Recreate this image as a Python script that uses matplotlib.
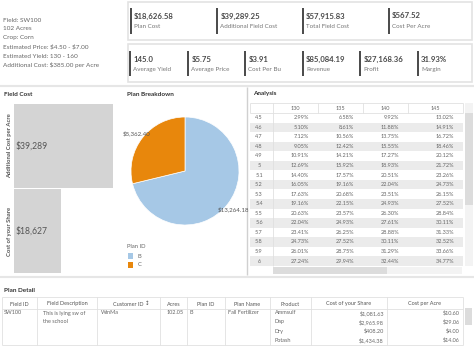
import matplotlib.pyplot as plt
from matplotlib.patches import Rectangle

plt.rcParams['font.family'] = ['Lato', 'DejaVu Sans']
plt.rcParams['text.parse_math'] = False

W, H = 474, 348

field_info = ["Field: SW100", "102 Acres", "Crop: Corn",
              "Estimated Price: $4.50 - $7.00", "Estimated Yield: 130 - 160",
              "Additional Cost: $385.00 per Acre"]

cost_values = ["$18,626.58", "$39,289.25", "$57,915.83", "$567.52"]
cost_labels = ["Plan Cost", "Additional Field Cost", "Total Field Cost", "Cost Per Acre"]
return_values = ["145.0", "$5.75", "$3.91", "$85,084.19", "$27,168.36", "31.93%"]
return_labels = ["Average Yield", "Average Price", "Cost Per Bu", "Revenue", "Profit", "Margin"]

field_cost_names = ["Additional Cost per Acre", "Cost of your Share"]
field_cost_amounts = [39289.25, 18626.58]

plan_ids = ["B", "C"]
plan_amounts = [13264.18, 5362.40]
plan_colors = ["#a6c8e6", "#e8870c"]

yield_levels = ["130", "135", "140", "145"]
price_levels = ["4.5", "4.6", "4.7", "4.8", "4.9", "5", "5.1", "5.2",
                "5.3", "5.4", "5.5", "5.6", "5.7", "5.8", "5.9", "6"]
margin_pct = [
    [2.99, 6.58, 9.92, 13.02],
    [5.10, 8.61, 11.88, 14.91],
    [7.12, 10.56, 13.75, 16.72],
    [9.05, 12.42, 15.55, 18.46],
    [10.91, 14.21, 17.27, 20.12],
    [12.69, 15.92, 18.93, 21.72],
    [14.40, 17.57, 20.51, 23.26],
    [16.05, 19.16, 22.04, 24.73],
    [17.63, 20.68, 23.51, 26.15],
    [19.16, 22.15, 24.93, 27.52],
    [20.63, 23.57, 26.30, 28.84],
    [22.04, 24.93, 27.61, 30.11],
    [23.41, 26.25, 28.88, 31.33],
    [24.73, 27.52, 30.11, 32.52],
    [26.01, 28.75, 31.29, 33.66],
    [27.24, 29.94, 32.44, 34.77],
]

detail_headers = ["Field ID", "Field Description", "Customer ID", "Acres", "Plan ID",
                  "Plan Name", "Product", "Cost of your Share", "Cost per Acre"]
detail_field = ["SW100", "This is lying sw of\nthe school", "WinMa", "102.05", "B", "Fall Fertilizer"]
products = ["Ammsulf", "Dap", "Dry", "Potash"]
share_costs = ["$1,081.63", "$2,965.98", "$408.20", "$1,434.38"]
acre_costs = ["$10.60", "$29.06", "$4.00", "$14.06"]

TXT = "#666666"
DARK = "#4a4a4a"
LINE = "#e0e0e0"

fig = plt.figure(figsize=(W / 100, H / 100), dpi=100)
fig.patch.set_facecolor("white")

# pixel-space canvas for text, boxes and tables
bg = fig.add_axes([0, 0, 1, 1])
bg.set_xlim(0, W)
bg.set_ylim(H, 0)
bg.axis("off")


def rect(x0, y0, x1, y1, **kw):
    bg.add_patch(Rectangle((x0, y0), x1 - x0, y1 - y0, **kw))


def hline(y, x0, x1, color=LINE, lw=0.6):
    bg.plot([x0, x1], [y, y], color=color, lw=lw, solid_capstyle="butt")


def vline(x, y0, y1, color=LINE, lw=0.6):
    bg.plot([x, x], [y0, y1], color=color, lw=lw, solid_capstyle="butt")


# field summary
for i, line in enumerate(field_info):
    bg.text(3, 20 + i * 9, line, fontsize=4.6, color=TXT, va="center")

# KPI strips
rect(128, 2, 472, 40, fill=False, ec="#e3e3e3", lw=1.2)
rect(128, 44, 472, 82, fill=False, ec="#e3e3e3", lw=1.2)
for x, v, lab in zip([130, 216.5, 302, 388], cost_values, cost_labels):
    rect(x, 8, x + 1.8, 34, color="#4d4d4d", lw=0)
    bg.text(x + 4, 16, v, fontsize=5.6, fontweight="bold", color=DARK, va="center")
    bg.text(x + 4, 26, lab, fontsize=4.5, color="#777777", va="center")
for x, v, lab in zip([129.5, 187.5, 244.5, 302, 359.5, 417], return_values, return_labels):
    rect(x, 51, x + 1.8, 76, color="#4d4d4d", lw=0)
    bg.text(x + 4, 59.5, v, fontsize=5.6, fontweight="bold", color=DARK, va="center")
    bg.text(x + 4, 69.5, lab, fontsize=4.5, color="#777777", va="center")

hline(86, 0, W, color="#e6e6e6", lw=1.5)
hline(276.5, 0, W, color="#e6e6e6", lw=1.5)
vline(247, 87, 275, color="#d0d0d0", lw=1.0)

# section titles
bg.text(4, 94, "Field Cost", fontsize=4.6, fontweight="bold", color="#333333", va="center")
bg.text(127, 94, "Plan Breakdown", fontsize=4.6, fontweight="bold", color="#333333", va="center")
bg.text(253, 94, "Analysis", fontsize=4.6, fontweight="bold", color="#333333", va="center")
bg.text(4, 291, "Plan Detail", fontsize=4.6, fontweight="bold", color="#333333", va="center")

# Field Cost bars
ax_fc = fig.add_axes([14 / W, 1 - 274 / H, 99 / W, 171 / H])
rows = range(len(field_cost_amounts))
ax_fc.barh(rows, field_cost_amounts, height=0.985, color="#d4d4d4")
ax_fc.set_xlim(0, max(field_cost_amounts))
ax_fc.set_ylim(len(field_cost_amounts) - 0.5, -0.5)
ax_fc.axis("off")
for i, (name, v) in enumerate(zip(field_cost_names, field_cost_amounts)):
    ax_fc.annotate(f"${v:,.0f}", (0, i), xytext=(2, 0), textcoords="offset pixels",
                   fontsize=6.2, color="#555555", va="center", ha="left")
    ax_fc.annotate(name, (0, i), xytext=(-1.5, 0), textcoords="offset pixels",
                   fontsize=4.2, fontweight="bold", color="#555555", rotation=90,
                   va="center", ha="right", annotation_clip=False)

# Plan Breakdown pie
cx, cy, r = 185, 171, 54
ax_pie = fig.add_axes([(cx - r) / W, 1 - (cy + r) / H, 2 * r / W, 2 * r / H])
wedges, texts = ax_pie.pie(plan_amounts, colors=plan_colors, startangle=90, counterclock=False,
                           labels=[f"${v:,.2f}" for v in plan_amounts], labeldistance=1.14,
                           wedgeprops=dict(edgecolor="white", linewidth=0.5),
                           textprops=dict(fontsize=4.4, color="#555555"))
for t in texts:
    t.set_horizontalalignment("center")
ax_pie.set_xlim(-1, 1)
ax_pie.set_ylim(-1, 1)

bg.text(127, 246, "Plan ID", fontsize=4.2, color=TXT, va="center")
for i, (pid, c) in enumerate(zip(plan_ids, plan_colors)):
    y = 256 + i * 9
    rect(128, y - 2.7, 133.5, y + 2.7, color=c, lw=0)
    bg.text(138, y, pid, fontsize=4.2, color=TXT, va="center")

# Analysis table
col_edges = [250, 273, 318, 363, 408, 463]
row_top, row_h = 113, 9.55
for i, (p, vals) in enumerate(zip(price_levels, margin_pct)):
    y0 = row_top + i * row_h
    if i % 2 == 1:
        rect(250, y0, 463, y0 + row_h, color="#ebebeb", lw=0)
    yc = y0 + row_h / 2
    bg.text(259, yc, p, fontsize=4.0, color=TXT, va="center", ha="center")
    for j, v in enumerate(vals):
        bg.text(col_edges[j + 2] - 9, yc, f"{v:.2f}%", fontsize=4.0, color=TXT,
                va="center", ha="right")
for j, h in enumerate(yield_levels):
    bg.text((col_edges[j + 1] + col_edges[j + 2]) / 2, 108, h, fontsize=4.0,
            color=TXT, va="center", ha="center")
table_bottom = row_top + len(price_levels) * row_h
hline(103, 250, 463)
hline(row_top, 250, 463)
for x in col_edges:
    vline(x, 103, row_top)
vline(273, row_top, table_bottom)
# scrollbars
rect(465, 103, 473, 266, color="#f3f3f3", lw=0)
rect(465, 113, 473, 205, color="#dcdcdc", lw=0)
rect(273, 267, 462, 273.5, color="#f3f3f3", lw=0)
rect(273, 267, 387, 273.5, color="#dcdcdc", lw=0)

# Plan Detail table
det_edges = [2, 37, 97, 160, 187, 225, 270, 311, 387, 463]
for j, h in enumerate(detail_headers):
    bg.text((det_edges[j] + det_edges[j + 1]) / 2, 304, h, fontsize=4.0,
            color="#555555", va="center", ha="center")
bg.text(147, 303.5, "\u2195", fontsize=4.0, color="#555555", va="center", ha="center",
        family="DejaVu Sans")
for x in det_edges:
    vline(x, 297, 345)
hline(297, 2, 463)
hline(309, 2, 463)
hline(345, 2, 463)

bg.text(4, 313, detail_field[0], fontsize=4.0, color=TXT, va="center")
bg.text(43, 317.5, detail_field[1], fontsize=4.0, color=TXT, va="center", linespacing=1.6)
bg.text(101, 313, detail_field[2], fontsize=4.0, color=TXT, va="center")
bg.text(184, 313, detail_field[3], fontsize=4.0, color=TXT, va="center", ha="right")
bg.text(190, 313, detail_field[4], fontsize=4.0, color=TXT, va="center")
bg.text(228, 313, detail_field[5], fontsize=4.0, color=TXT, va="center")
for i, (prod, sc, ac) in enumerate(zip(products, share_costs, acre_costs)):
    y = 313 + i * 9
    bg.text(275, y, prod, fontsize=4.0, color=TXT, va="center")
    bg.text(384, y, sc, fontsize=4.0, color=TXT, va="center", ha="right")
    bg.text(460, y, ac, fontsize=4.0, color=TXT, va="center", ha="right")
rect(465, 308, 472, 325, color="#dcdcdc", lw=0)

fig.savefig("out.png", dpi=100, facecolor="white")
